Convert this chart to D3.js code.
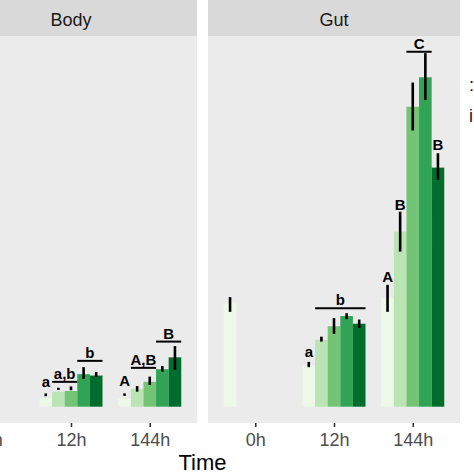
<!DOCTYPE html>
<html>
  <head>
    <meta charset="utf-8" />
    <title>Body / Gut bar chart</title>
    <style>
      body {
        margin: 0;
        background: white;
      }
      svg {
        display: block;
      }
    </style>
  </head>
  <body>
    <script src="https://cdn.jsdelivr.net/npm/d3@7"></script>
    <svg class="canvas"></svg>
    <script>
      //---------------data----------------
      const tissues = ["Body", "Gut"];
      const times = ["0h", "12h", "144h"];
      const levels = ["L1", "L2", "L3", "L4", "L5"];
      const fills = ["#edf8e9", "#bae4b3", "#74c476", "#31a354", "#006d2c"];

      // tissue, time, level index, mean, low, high
      const bars = [
        ["Body", "12h", 0, 2.5, 3.0, 3.8],
        ["Body", "12h", 1, 4.3, 4.8, 5.4],
        ["Body", "12h", 2, 4.5, 4.7, 5.8],
        ["Body", "12h", 3, 9.3, 7.9, 11.3],
        ["Body", "12h", 4, 8.9, 8.5, 9.9],
        ["Body", "144h", 0, 2.2, 3.1, 3.8],
        ["Body", "144h", 1, 5.1, 4.3, 5.9],
        ["Body", "144h", 2, 7.1, 6.2, 8.6],
        ["Body", "144h", 3, 10.7, 10.0, 11.6],
        ["Body", "144h", 4, 14.1, 10.5, 17.3],
        ["Gut", "0h", 0, 29.5, 27.1, 31.3],
        ["Gut", "12h", 0, 11.9, 11.3, 12.8],
        ["Gut", "12h", 1, 19.1, 18.6, 20.0],
        ["Gut", "12h", 2, 23.0, 20.8, 25.3],
        ["Gut", "12h", 3, 25.9, 25.0, 26.7],
        ["Gut", "12h", 4, 23.7, 22.5, 24.9],
        ["Gut", "144h", 0, 31.0, 27.1, 34.8],
        ["Gut", "144h", 1, 50.0, 44.3, 55.7],
        ["Gut", "144h", 2, 85.7, 78.9, 92.6],
        ["Gut", "144h", 3, 94.1, 87.6, 101.0],
        ["Gut", "144h", 4, 68.3, 64.8, 72.4],
      ];

      // tissue, time, from level, to level, label, y, with line
      const letters = [
        ["Body", "12h", 0, 0, "a", 5.6, false],
        ["Body", "12h", 1, 2, "a,b", 7.1, true],
        ["Body", "12h", 3, 4, "b", 13.1, true],
        ["Body", "144h", 0, 0, "A", 5.9, false],
        ["Body", "144h", 1, 2, "A,B", 11.1, true],
        ["Body", "144h", 3, 4, "B", 18.6, true],
        ["Gut", "12h", 0, 0, "a", 14.2, false],
        ["Gut", "12h", 1, 4, "b", 28.1, true],
        ["Gut", "144h", 0, 0, "A", 35.6, false],
        ["Gut", "144h", 1, 1, "B", 56.3, false],
        ["Gut", "144h", 2, 3, "C", 101.4, true],
        ["Gut", "144h", 4, 4, "B", 73.3, false],
      ];

      //---------------layout----------------
      const width = 474,
        height = 474;
      const panelLeft = { Body: -55, Gut: 208 },
        panelW = 252,
        stripTop = 0,
        panelTop = 36,
        panelBottom = 423;

      const svg = d3
        .select(".canvas")
        .attr("width", width)
        .attr("height", height)
        .style("font-family", "'Liberation Sans', Arial, sans-serif");

      const y = d3.scaleLinear().domain([0, 105.9]).range([406.7, 36]);

      const xOuter = {};
      tissues.forEach((t) => {
        xOuter[t] = d3
          .scalePoint()
          .domain(times)
          .range([panelLeft[t], panelLeft[t] + panelW])
          .padding(0.6);
      });
      const step = xOuter.Gut.step();
      const xInner = d3
        .scaleBand()
        .domain(levels)
        .range([-0.4 * step, 0.4 * step]);

      const barX = (t, time, i) => xOuter[t](time) + xInner(levels[i]);

      //---------------panels----------------
      tissues.forEach((t) => {
        svg
          .append("rect")
          .attr("x", panelLeft[t])
          .attr("y", panelTop)
          .attr("width", panelW)
          .attr("height", panelBottom - panelTop)
          .attr("fill", "#ebebeb");

        svg
          .append("rect")
          .attr("x", panelLeft[t])
          .attr("y", stripTop)
          .attr("width", panelW)
          .attr("height", panelTop - stripTop)
          .attr("fill", "#d9d9d9");

        svg
          .append("text")
          .attr("x", panelLeft[t] + panelW / 2)
          .attr("y", 25.5)
          .attr("text-anchor", "middle")
          .attr("font-size", 18)
          .attr("fill", "#1a1a1a")
          .text(t);

        // x axis
        const axis = d3.axisBottom(xOuter[t]).tickSize(4).tickPadding(6);
        const g = svg
          .append("g")
          .attr("transform", `translate(0,${panelBottom})`)
          .call(axis);
        g.select(".domain").remove();
        g.selectAll(".tick line")
          .attr("stroke", "#333")
          .attr("stroke-width", 1.6);
        g.selectAll(".tick text")
          .attr("font-size", 18)
          .attr("font-family", "'Liberation Sans', Arial, sans-serif")
          .attr("fill", "#4d4d4d");
      });

      //---------------bars----------------
      svg
        .append("g")
        .selectAll("rect")
        .data(bars)
        .join("rect")
        .attr("x", (d) => barX(d[0], d[1], d[2]))
        .attr("y", (d) => y(d[3]))
        .attr("width", xInner.bandwidth())
        .attr("height", (d) => y(0) - y(d[3]))
        .attr("fill", (d) => fills[d[2]]);

      //---------------error bars----------------
      svg
        .append("g")
        .selectAll("line")
        .data(bars)
        .join("line")
        .attr("x1", (d) => barX(d[0], d[1], d[2]) + xInner.bandwidth() / 2)
        .attr("x2", (d) => barX(d[0], d[1], d[2]) + xInner.bandwidth() / 2)
        .attr("y1", (d) => y(d[4]))
        .attr("y2", (d) => y(d[5]))
        .attr("stroke", "black")
        .attr("stroke-width", 2.6);

      //---------------letters----------------
      const lg = svg.append("g");
      letters.forEach((d) => {
        const x0 = barX(d[0], d[1], d[2]),
          x1 = barX(d[0], d[1], d[3]) + xInner.bandwidth();
        let base = y(d[5]);
        if (d[6]) {
          lg.append("line")
            .attr("x1", x0)
            .attr("x2", x1)
            .attr("y1", y(d[5]))
            .attr("y2", y(d[5]))
            .attr("stroke", "black")
            .attr("stroke-width", 2);
          base = y(d[5]) - 3;
        }
        lg.append("text")
          .attr("x", (x0 + x1) / 2)
          .attr("y", base)
          .attr("text-anchor", "middle")
          .attr("font-size", 15)
          .attr("font-weight", "bold")
          .attr("fill", "black")
          .text(d[4]);
      });

      //---------------titles----------------
      svg
        .append("text")
        .attr("x", (panelLeft.Body + panelLeft.Gut + panelW) / 2)
        .attr("y", 470)
        .attr("text-anchor", "middle")
        .attr("font-size", 22)
        .attr("fill", "black")
        .text("Time");

      // legend, cut off at the right edge
      svg
        .append("text")
        .attr("x", 469)
        .attr("y", 91)
        .attr("font-size", 18)
        .attr("fill", "#1a1a1a")
        .text(":");
      svg
        .append("text")
        .attr("x", 469)
        .attr("y", 122)
        .attr("font-size", 18)
        .attr("fill", "#1a1a1a")
        .text("i");
    </script>
  </body>
</html>
